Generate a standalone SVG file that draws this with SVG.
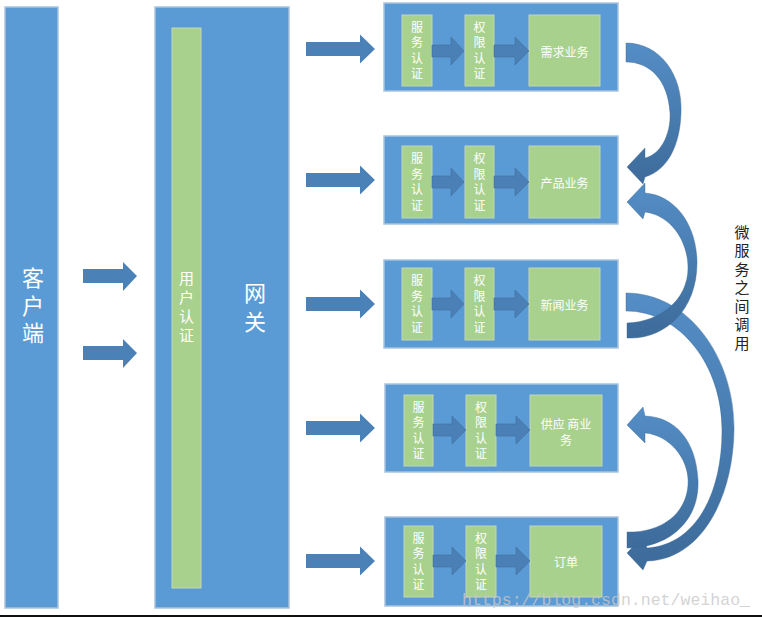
<svg xmlns="http://www.w3.org/2000/svg" width="762" height="618" viewBox="0 0 762 618">
<defs>
<style>
.blue{fill:#5b9bd5;stroke:#a9c3de;stroke-width:1.5}
.green{fill:#a9d18e;stroke:#c3d6b6;stroke-width:1}
.barrow{fill:#4a82b8}
.sarrow{fill:#4a80b6;stroke:#41719c;stroke-width:0.6}
.curve{fill:url(#cg);stroke:#3a6694;stroke-width:0.4}
text{font-family:"Noto Sans CJK SC","Liberation Sans",sans-serif;text-anchor:middle;dominant-baseline:central}
.v{writing-mode:vertical-rl}
.w{fill:#ffffff}
.big{font-size:22px}
.mid{font-size:15px;letter-spacing:4px}
.sm{font-size:12px}
.vs{letter-spacing:3.5px}
.side{font-size:15px;fill:#222222;letter-spacing:3.5px}
.wm{font-family:"Liberation Mono","DejaVu Sans Mono",monospace;font-size:17px;fill:#c8c8c8;fill-opacity:0.8;text-anchor:start;dominant-baseline:alphabetic}
</style>
<linearGradient id="cg" x1="0" y1="0" x2="0" y2="1">
<stop offset="0" stop-color="#548ec6"/>
<stop offset="1" stop-color="#3d6b9a"/>
</linearGradient>
</defs>

<g id="client">
<rect class="blue" x="5" y="7" width="53" height="601"/>
<text class="v w big" x="33" y="308" letter-spacing="5.5">客户端</text>
</g>

<g id="gateway">
<rect class="blue" x="155" y="7" width="134" height="601"/>
<rect class="green" x="172" y="28" width="29" height="560"/>
<text class="v w mid" x="186.5" y="308.5">用户认证</text>
<text class="v w big" x="255" y="311" letter-spacing="7">网关</text>
</g>

<g id="svc1">
<rect class="blue" x="384" y="3" width="234" height="88"/>
<rect class="green" x="402" y="15" width="30" height="71"/>
<rect class="green" x="465" y="15" width="29" height="71"/>
<rect class="green" x="529" y="15" width="71" height="71"/>
<path class="sarrow" d="M432,45 H451 V37 L464,51 L451,65 V57 H432 Z"/>
<path class="sarrow" d="M494,45 H515 V37 L529,51 L515,65 V57 H494 Z"/>
<text class="v vs w sm" x="417" y="52">服务认证</text>
<text class="v vs w sm" x="479.5" y="52">权限认证</text>
<text class="w sm" x="564.5" y="51">需求业务</text>
</g>

<g id="svc2">
<rect class="blue" x="384" y="136" width="234" height="88"/>
<rect class="green" x="402" y="146" width="30" height="72"/>
<rect class="green" x="465" y="146" width="29" height="72"/>
<rect class="green" x="529" y="146" width="71" height="72"/>
<path class="sarrow" d="M432,176 H451 V168 L464,182 L451,196 V188 H432 Z"/>
<path class="sarrow" d="M494,176 H515 V168 L529,182 L515,196 V188 H494 Z"/>
<text class="v vs w sm" x="417" y="183.5">服务认证</text>
<text class="v vs w sm" x="479.5" y="183.5">权限认证</text>
<text class="w sm" x="564.5" y="182">产品业务</text>
</g>

<g id="svc3">
<rect class="blue" x="384" y="260" width="234" height="88"/>
<rect class="green" x="402" y="268" width="30" height="72"/>
<rect class="green" x="465" y="268" width="29" height="72"/>
<rect class="green" x="529" y="268" width="71" height="72"/>
<path class="sarrow" d="M432,298 H451 V290 L464,304 L451,318 V310 H432 Z"/>
<path class="sarrow" d="M494,298 H515 V290 L529,304 L515,318 V310 H494 Z"/>
<text class="v vs w sm" x="417" y="305.5">服务认证</text>
<text class="v vs w sm" x="479.5" y="305.5">权限认证</text>
<text class="w sm" x="564.5" y="304">新闻业务</text>
</g>

<g id="svc4">
<rect class="blue" x="385" y="384" width="233" height="88"/>
<rect class="green" x="404" y="395" width="29" height="71"/>
<rect class="green" x="466" y="395" width="30" height="71"/>
<rect class="green" x="530" y="395" width="72" height="71"/>
<path class="sarrow" d="M433,424 H452 V416 L466,430 L452,444 V436 H433 Z"/>
<path class="sarrow" d="M496,424 H516 V416 L530,430 L516,444 V436 H496 Z"/>
<text class="v vs w sm" x="418.5" y="432">服务认证</text>
<text class="v vs w sm" x="481" y="432">权限认证</text>
<text class="w sm"><tspan x="566" y="423">供应 商业</tspan><tspan x="566" y="439">务</tspan></text>
</g>

<g id="svc5">
<rect class="blue" x="385" y="517" width="233" height="89"/>
<rect class="green" x="404" y="526" width="29" height="71"/>
<rect class="green" x="466" y="526" width="30" height="71"/>
<rect class="green" x="530" y="526" width="72" height="71"/>
<path class="sarrow" d="M433,555 H452 V547 L466,561 L452,575 V567 H433 Z"/>
<path class="sarrow" d="M496,555 H516 V547 L530,561 L516,575 V567 H496 Z"/>
<text class="v vs w sm" x="418.5" y="563">服务认证</text>
<text class="v vs w sm" x="481" y="563">权限认证</text>
<text class="w sm" x="566" y="561">订单</text>
</g>

<g id="connectors">
<path class="barrow" d="M83,269 H123 V262 L137,276 L123,291 V283 H83 Z"/>
<path class="barrow" d="M83,346 H123 V339 L137,353 L123,368 V360 H83 Z"/>
<path class="barrow" d="M306,42 H360 V34.5 L375,49 L360,63.5 V56 H306 Z"/>
<path class="barrow" d="M306,173 H360 V165.5 L375,180 L360,194.5 V187 H306 Z"/>
<path class="barrow" d="M306,297 H360 V289.5 L375,304 L360,318.5 V311 H306 Z"/>
<path class="barrow" d="M306,421 H360 V413.5 L375,428 L360,442.5 V435 H306 Z"/>
<path class="barrow" d="M306,554 H360 V546.5 L375,561 L360,575.5 V568 H306 Z"/>

<path class="curve" d="M626,293 C690,293 735,360 734,430 C733,500 700,560 647,561 L643,570 L627,553 L643,536 L647,548 C695,545 722,495 722,430 C722,365 680,311 626,311 Z"/>
<path class="curve" d="M626,43 C660,43 683,75 681,113 C680,145 668,170 645,177 L643,184 L627,167 L645,148 L645,158 C660,155 671,135 670,113 C668,80 650,62 626,62 Z"/>
<path class="curve" d="M627,338 C665,340 697,310 697,263 C697,225 675,195 645,193 L645,183 L627,202 L643,219 L645,212 C670,215 688,240 688,268 C688,300 660,322 627,323 Z"/>
<path class="curve" d="M627,548 C670,548 700,520 698,480 C696,440 675,417 645,416 L643,407 L627,425 L645,443 L645,433 C670,435 690,460 688,485 C686,515 660,533 627,532 Z"/>
</g>

<g id="label">
<text class="v side" x="742" y="289.25">微服务之间调用</text>
</g>

<text class="wm" x="462" y="605" textLength="288" lengthAdjust="spacingAndGlyphs">https://blog.csdn.net/weihao_</text>
<rect x="0" y="615" width="762" height="2" fill="#111111"/>
</svg>
